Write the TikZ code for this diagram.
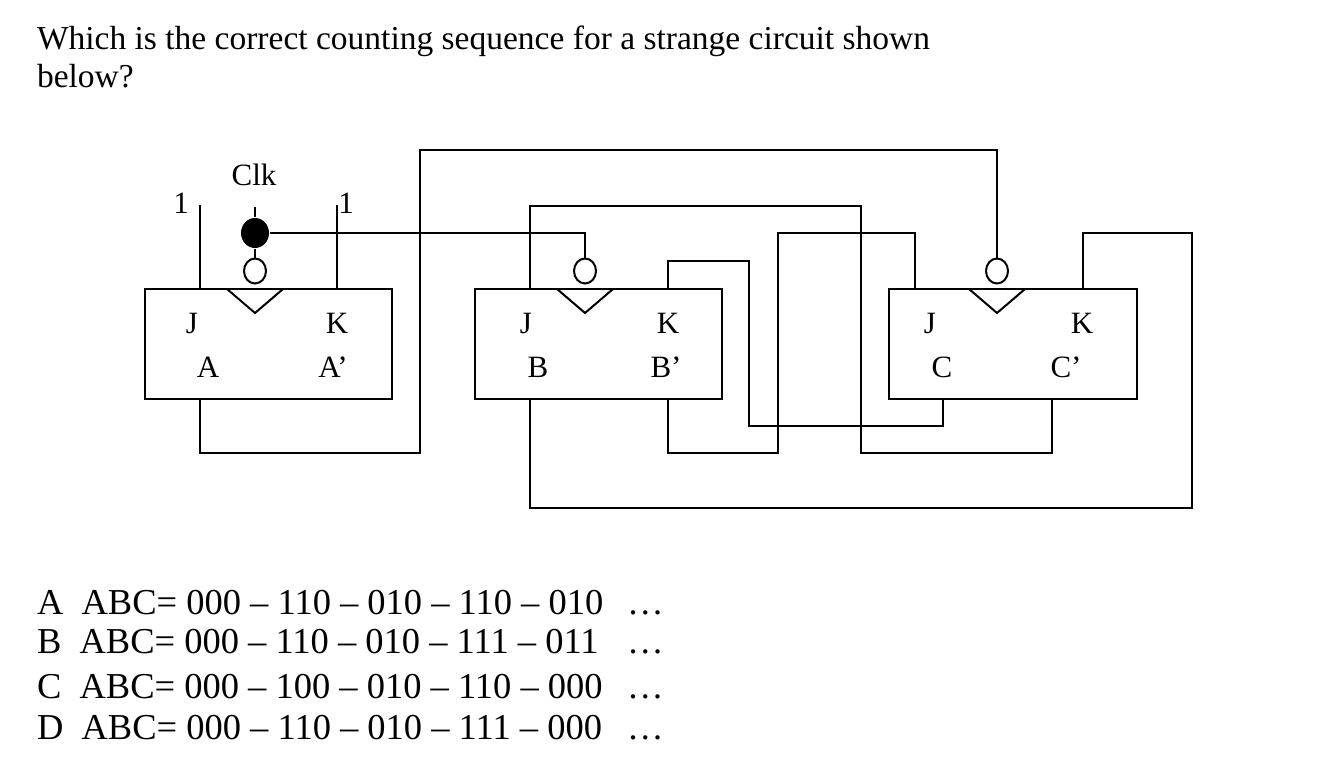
\documentclass[tikz,border=0pt]{standalone}
\usepackage{fontspec}
\usetikzlibrary{shapes.geometric}
\setmainfont{Liberation Serif}
\begin{document}
\begin{tikzpicture}[x=1pt,y=-1pt,line width=2pt,
  ff/.style={draw,line width=2pt},
  bub/.style={draw,ellipse,minimum width=22pt,minimum height=25pt,inner sep=0pt,line width=2pt},
  lbl/.style={font=\fontsize{31}{32}\selectfont,inner sep=0pt},
  txt/.style={font=\fontsize{33.5}{36}\selectfont,anchor=base west,inner sep=0pt},
  ans/.style={font=\fontsize{36.5}{40}\selectfont,anchor=base west,inner sep=0pt}]
\useasboundingbox (0,0) rectangle (1325,773);
\node[txt] (t1) at (36,50) {Which is the correct counting sequence for a strange circuit shown};
\node[txt] (t2) at (36,88) {below?};
% boxes
\draw[ff] (145,289) rectangle (392,399);
\draw[ff] (475,289) rectangle (722,399);
\draw[ff] (889,289) rectangle (1137,399);
% triangles
\foreach \c in {255,585,997}{\draw (\c-28,289) -- (\c,313) -- (\c+28,289);}
% bubbles
\node[bub] (bA) at (255,271) {};
\node[bub] (bB) at (585,271) {};
\node[bub] (bC) at (997,271) {};
\node[fill,ellipse,minimum width=28pt,minimum height=30pt,inner sep=0pt] (dot) at (255,233) {};
\coordinate (clkin) at (255,207);
\draw (clkin) -- (dot) -- (bA);
\draw (dot) -- (585,233) -- (bB);
% inputs 1
\draw (200,205) -- (200,289);
\draw (337,205) -- (337,289);
\node[lbl] (one1) at (181,203) {1};
\node[lbl] (one2) at (346,203) {1};
\node[lbl] (clk) at (254,175) {Clk};
% labels
\node[lbl] (jA) at (192,323) {J};   \node[lbl] (kA) at (337,323) {K};
\node[lbl] (qA) at (208,367) {A};   \node[lbl] (nA) at (333,367) {A’};
\node[lbl] (jB) at (526,323) {J};   \node[lbl] (kB) at (668,323) {K};
\node[lbl] (qB) at (538,367) {B};   \node[lbl] (nB) at (666,367) {B’};
\node[lbl] (jC) at (930,323) {J};   \node[lbl] (kC) at (1082,323) {K};
\node[lbl] (qC) at (942,367) {C};   \node[lbl] (nC) at (1066,367) {C’};
% wires
\draw (200,399) -- (200,453) -- (420,453) -- (420,150) -- (997,150) -- (bC);
\draw (530,289) -- (530,206) -- (861,206) -- (861,453) -- (1052,453) -- (1052,399);
\draw (668,289) -- (668,261) -- (749,261) -- (749,426) -- (943,426) -- (943,399);
\draw (530,399) -- (530,508) -- (1192,508) -- (1192,233) -- (1083,233) -- (1083,289);
\draw (668,399) -- (668,453) -- (778,453) -- (778,233) -- (915,233) -- (915,289);
% answers
\node[ans] (a1) at (36,614) {A\ \ ABC= 000 – 110 – 010 – 110 – 010};
\node[ans] (a2) at (36,653) {B\ \ ABC= 000 – 110 – 010 – 111 – 011};
\node[ans] (a3) at (36,698) {C\ \ ABC= 000 – 100 – 010 – 110 – 000};
\node[ans] (a4) at (36,739) {D\ \ ABC= 000 – 110 – 010 – 111 – 000};
\foreach \y/\n in {614/e1,653/e2,698/e3,739/e4}{\node[ans] (\n) at (626,\y) {…};}
\end{tikzpicture}
\end{document}
